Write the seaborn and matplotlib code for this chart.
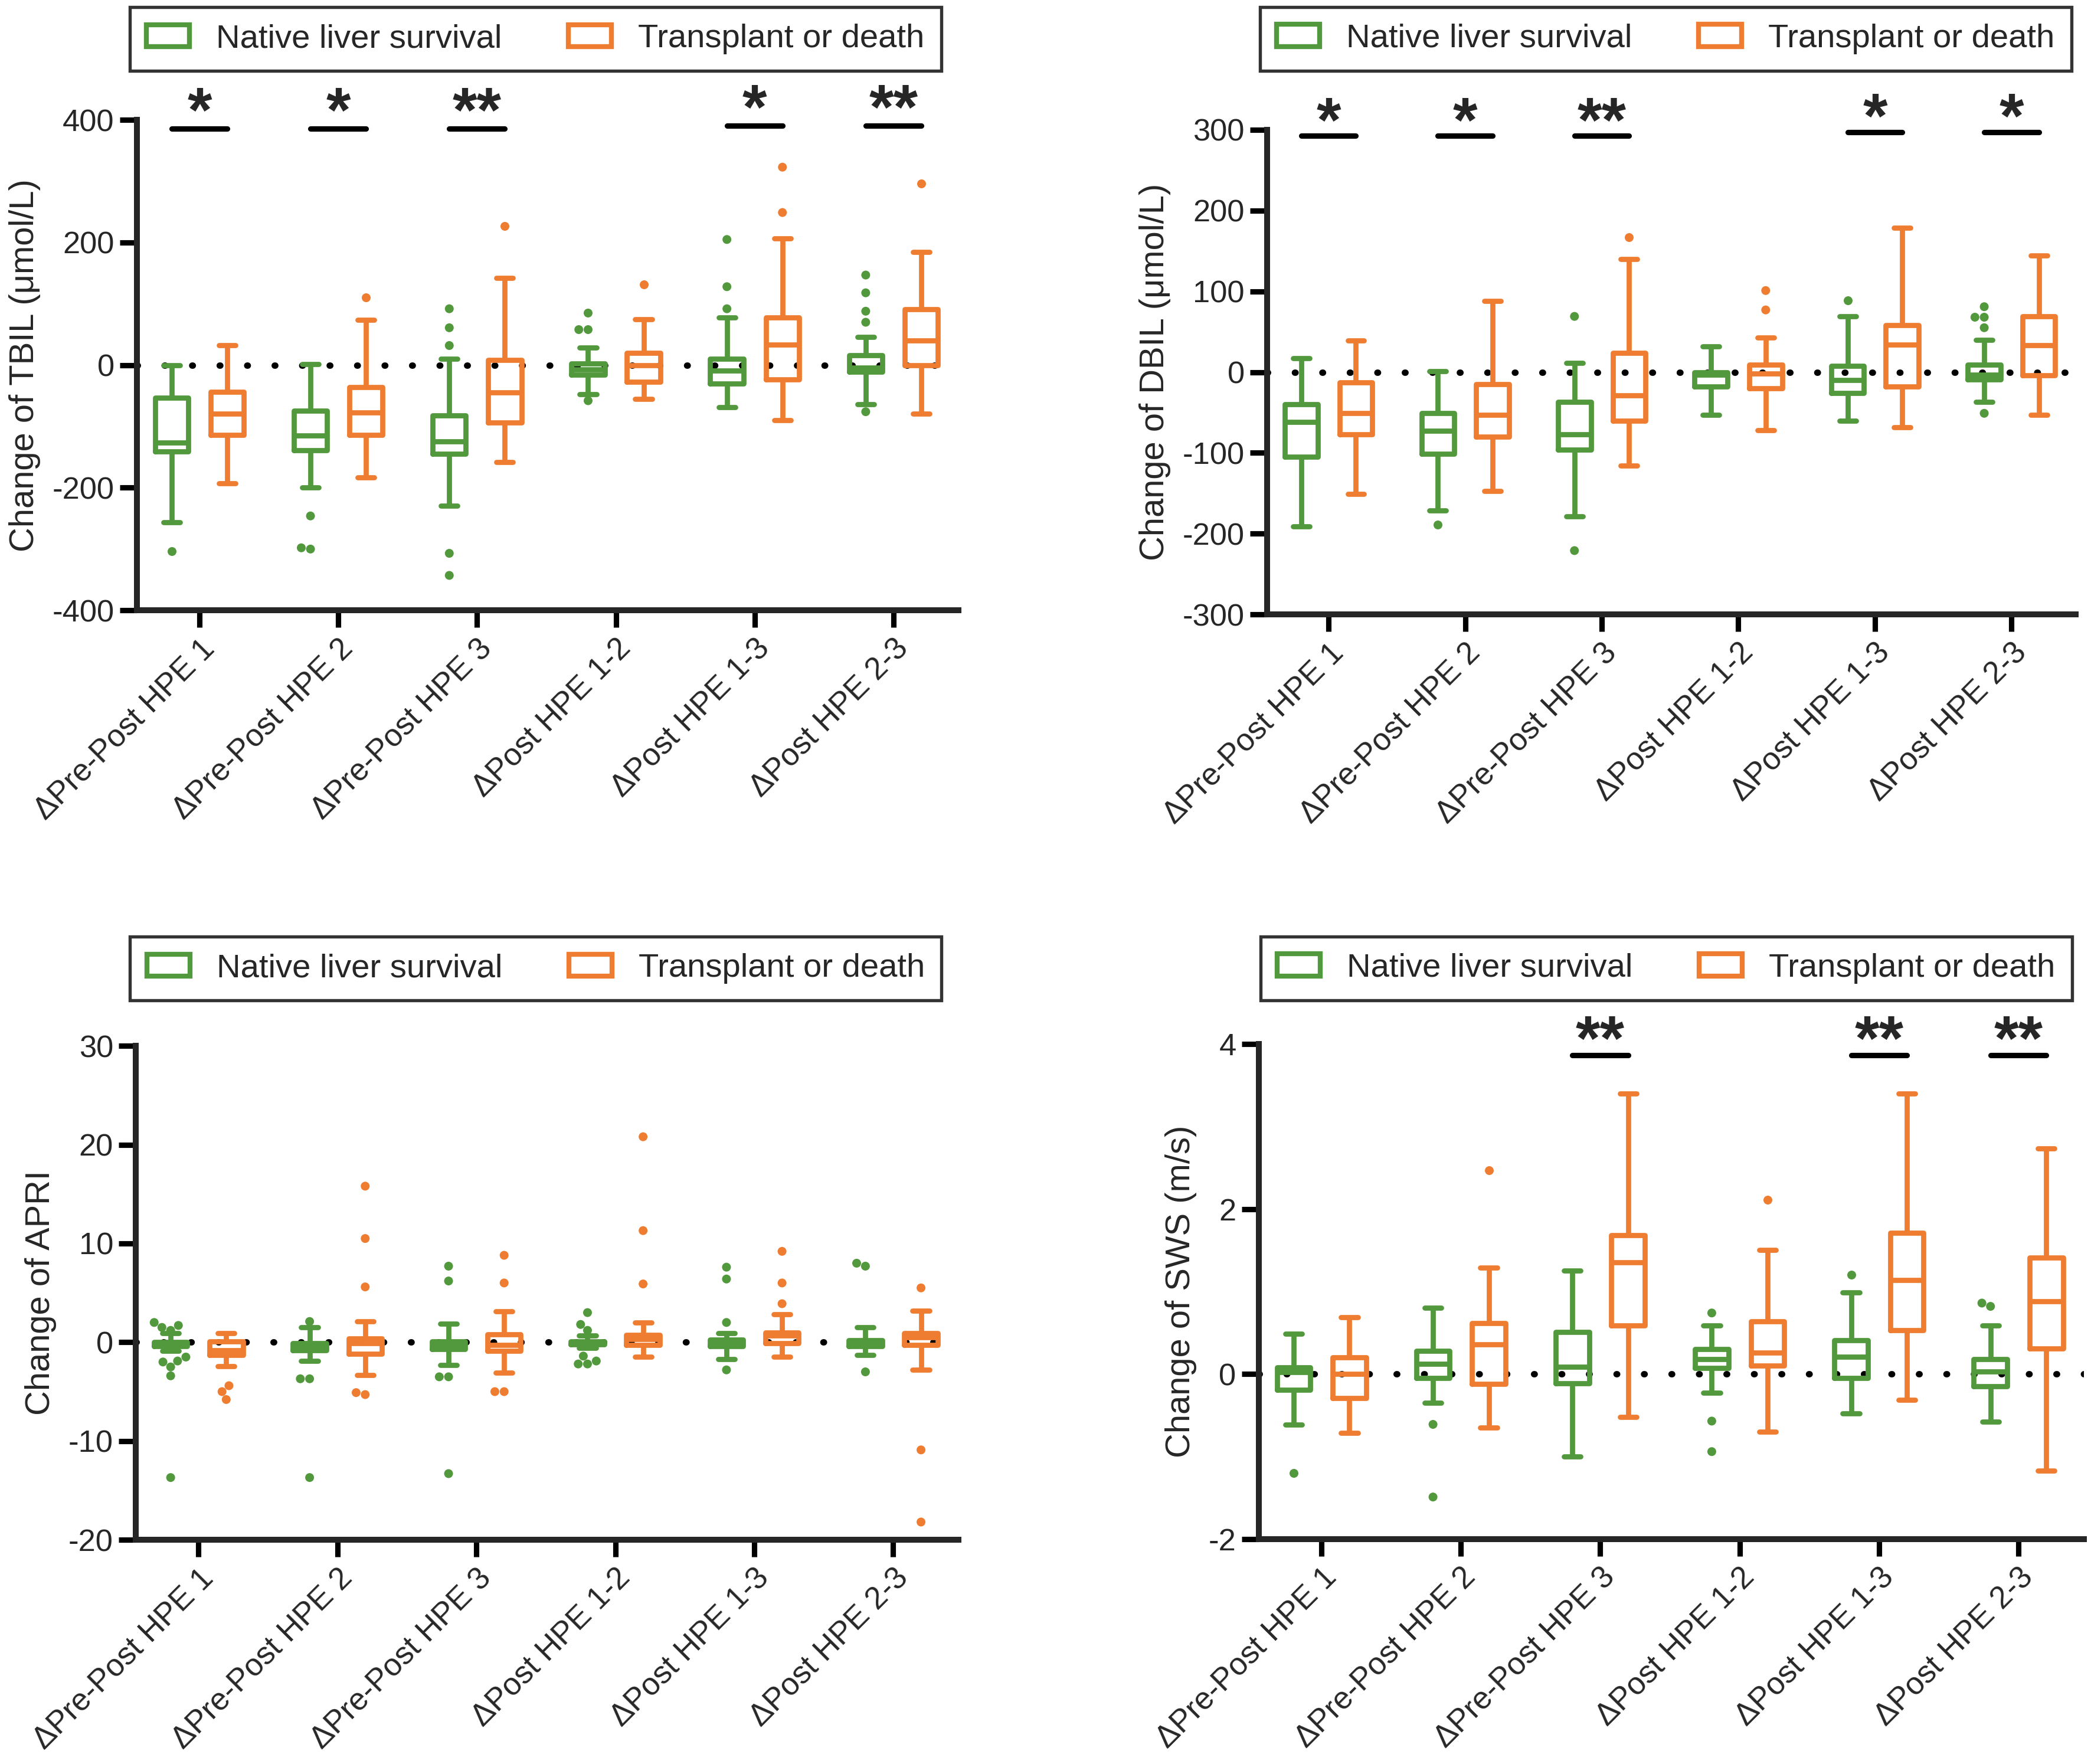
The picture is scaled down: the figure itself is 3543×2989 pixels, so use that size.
import numpy as np
import pandas as pd
import matplotlib
matplotlib.use('Agg')
import matplotlib.pyplot as plt
import matplotlib.transforms as mtransforms
import seaborn as sns
from matplotlib.patches import Patch

# categories / groups
cats = ['ΔPre-Post HPE 1', 'ΔPre-Post HPE 2', 'ΔPre-Post HPE 3',
        'ΔPost HPE 1-2', 'ΔPost HPE 1-3', 'ΔPost HPE 2-3']
groups = ['Native liver survival', 'Transplant or death']
colors = ['#52983C', '#EE7D32']

# box summaries: [whisker low, Q1, median, Q3, whisker high]
tbil_nls = [[-256, -141, -126, -53, 0], [-200, -139, -115, -74, 2], [-229, -145, -124, -82, 10],
            [-47, -16, -7, 3, 29], [-69, -30, -9, 10, 78], [-64, -11, -4, 16, 46]]
tbil_td = [[-193, -114, -79, -44, 32], [-183, -114, -77, -36, 74], [-158, -94, -45, 8, 142],
           [-55, -27, 0, 20, 75], [-90, -23, 33, 78, 207], [-79, 0, 40, 91, 185]]
tbil_nls_out = [[-304], [-246, -298, -300], [92, 61, 32, -307, -343],
                [85, 58, 58, -58], [205, 128, 92], [147, 118, 88, 70, -76]]
tbil_td_out = [[], [110], [227], [132], [323, 249], [296]]

dbil_nls = [[-191, -105, -62, -40, 17], [-171, -101, -73, -51, 1], [-179, -96, -77, -37, 11],
            [-53, -18, -3, 0, 32], [-60, -26, -10, 8, 69], [-37, -9, -3, 9, 40]]
dbil_td = [[-151, -77, -51, -13, 39], [-147, -80, -53, -15, 88], [-116, -60, -29, 24, 140],
           [-72, -20, -2, 9, 43], [-68, -18, 34, 58, 179], [-53, -4, 33, 69, 144]]
dbil_nls_out = [[], [-189], [69, -221], [], [89], [81, 68, 68, 55, -51]]
dbil_td_out = [[], [], [167], [101, 77], [], []]

apri_nls = [[-0.9, -0.4, -0.2, 0.0, 0.9], [-1.9, -0.8, -0.4, -0.1, 1.5], [-2.3, -0.7, -0.3, 0.1, 1.9],
            [-0.6, -0.2, 0.0, 0.1, 0.7], [-1.7, -0.4, -0.1, 0.25, 0.9], [-1.3, -0.4, -0.1, 0.2, 1.5]]
apri_td = [[-2.4, -1.3, -0.8, 0.1, 0.9], [-3.3, -1.2, -0.1, 0.4, 2.1], [-3.1, -0.9, -0.3, 0.8, 3.1],
           [-1.5, -0.25, 0.3, 0.75, 2.0], [-1.5, -0.1, 0.7, 1.0, 2.8], [-2.8, -0.3, 0.5, 0.9, 3.2]]
apri_nls_out = [[2.0, 1.7, 1.5, 1.2, -1.5, -1.9, -2.0, -2.5, -3.4, -13.7],
                [2.1, -3.7, -3.7, -13.7], [7.7, 6.2, -3.5, -3.5, -13.3],
                [3.0, 1.8, 1.2, -1.4, -1.9, -2.2, -2.2], [7.6, 6.4, 2.0, -2.8], [8.0, 7.7, -3.0]]
apri_td_out = [[-4.4, -5.0, -5.8], [15.8, 10.5, 5.6, -5.1, -5.3], [8.8, 6.0, -5.0, -5.0],
               [20.8, 11.3, 5.9], [9.2, 6.0, 3.9], [5.5, -10.9, -18.2]]

sws_nls = [[-0.61, -0.19, 0.02, 0.08, 0.49], [-0.35, -0.05, 0.12, 0.28, 0.80], [-1.0, -0.11, 0.09, 0.51, 1.25],
           [-0.23, 0.07, 0.18, 0.30, 0.59], [-0.48, -0.05, 0.21, 0.41, 0.99], [-0.58, -0.15, 0.03, 0.18, 0.59]]
sws_td = [[-0.71, -0.29, 0.0, 0.20, 0.69], [-0.65, -0.12, 0.36, 0.62, 1.29], [-0.52, 0.59, 1.35, 1.68, 3.40],
          [-0.70, 0.10, 0.26, 0.64, 1.50], [-0.31, 0.53, 1.14, 1.71, 3.40], [-1.17, 0.31, 0.88, 1.41, 2.73]]
sws_nls_out = [[-1.2], [-0.61, -1.49], [], [0.74, -0.57, -0.94], [1.20], [0.82, 0.86]]
sws_td_out = [[], [2.47], [], [2.11], [], []]

# significance: (category index, label)
tbil_sig = [(0, '*'), (1, '*'), (2, '**'), (4, '*'), (5, '**')]
dbil_sig = [(0, '*'), (1, '*'), (2, '**'), (4, '*'), (5, '*')]
sws_sig = [(2, '**'), (4, '**'), (5, '**')]

sns.set_style('ticks')
plt.rcParams['font.family'] = ['Liberation Sans', 'DejaVu Sans']
plt.rcParams['axes.unicode_minus'] = False


def long_df(a, b):
    rows = []
    for grp, vals in zip(groups, (a, b)):
        for cat, lst in zip(cats, vals):
            for v in lst:
                rows.append((cat, grp, v))
    return pd.DataFrame(rows, columns=['cat', 'grp', 'val'])


def draw_panel(ax, box_a, box_b, out_a, out_b, ylim, yticks, ylabel, sigs, bar_y, txt_y, leg_xy):
    ax.axhline(0, color='black', lw=2.6, ls=(0, (0.1, 4.2)), dash_capstyle='round', zorder=1)
    sns.boxplot(data=long_df(box_a, box_b), x='cat', y='val', hue='grp', order=cats,
                hue_order=groups, palette=colors, fill=False, whis=(0, 100), showfliers=False,
                width=0.8, gap=0.4, linewidth=2.1, legend=False, ax=ax)
    sns.swarmplot(data=long_df(out_a, out_b), x='cat', y='val', hue='grp', order=cats,
                  hue_order=groups, palette=colors, dodge=True, size=3.6, legend=False, ax=ax)
    ax.set_xlim(-0.45, 5.47)
    ax.set_ylim(*ylim)
    ax.set_yticks(yticks)
    ax.set_yticklabels([f'{t:g}' for t in yticks], fontsize=12.6)
    ax.set_xticks(range(len(cats)))
    ax.set_xticklabels(cats, rotation=45, ha='right', rotation_mode='anchor', fontsize=12.7)
    shift = mtransforms.ScaledTranslation(-21 / 300, 0, ax.figure.dpi_scale_trans)
    for lab in ax.get_xticklabels():
        lab.set_transform(lab.get_transform() + shift)
    ax.set_xlabel('')
    ax.set_ylabel(ylabel, fontsize=13.9, labelpad=4.8)
    sns.despine(ax=ax)
    for s in ('left', 'bottom'):
        ax.spines[s].set_linewidth(2.4)
    ax.tick_params(axis='both', width=2.2, length=7, color='black')
    ax.tick_params(axis='y', pad=2.2)
    ax.tick_params(axis='x', pad=2.5)
    for i, lab in sigs:
        by = bar_y[0] if i < 3 else bar_y[1]
        ty = txt_y[0] if i < 3 else txt_y[1]
        ax.plot([i - 0.2, i + 0.2], [by, by], color='black', lw=2.2, clip_on=False)
        ax.text(i, ty, lab, ha='center', va='center', fontsize=25.6, fontweight='bold', clip_on=False)
    handles = [Patch(facecolor='white', edgecolor=c, lw=2.0, label=g) for g, c in zip(groups, colors)]
    leg = ax.legend(handles=handles, loc='lower center', bbox_to_anchor=leg_xy, ncol=2,
                    fontsize=13.5, frameon=True, fancybox=False, edgecolor='black',
                    handlelength=1.3, handleheight=0.65, handletextpad=0.8, columnspacing=2.0,
                    borderpad=0.5, borderaxespad=0)
    leg.get_frame().set_linewidth(1.3)


fig = plt.figure(figsize=(3543 / 300, 2989 / 300), dpi=300)
ax1 = fig.add_axes([0.0655, 0.654, 0.393, 0.278])
ax2 = fig.add_axes([0.606, 0.6517, 0.3867, 0.2747])
ax3 = fig.add_axes([0.065, 0.1271, 0.3934, 0.28])
ax4 = fig.add_axes([0.602, 0.1275, 0.3946, 0.2807])

draw_panel(ax1, tbil_nls, tbil_td, tbil_nls_out, tbil_td_out, (-400, 400), [-400, -200, 0, 200, 400],
           'Change of TBIL (μmol/L)', tbil_sig, (386, 391), (408, 413), (0.485, 1.1))
draw_panel(ax2, dbil_nls, dbil_td, dbil_nls_out, dbil_td_out, (-300, 300), list(range(-300, 301, 100)),
           'Change of DBIL (μmol/L)', dbil_sig, (293, 297), (306, 311), (0.493, 1.122))
draw_panel(ax3, apri_nls, apri_td, apri_nls_out, apri_td_out, (-20, 30), [-20, -10, 0, 10, 20, 30],
           'Change of APRI', [], (0, 0), (0, 0), (0.486, 1.092))
draw_panel(ax4, sws_nls, sws_td, sws_nls_out, sws_td_out, (-2, 4), [-2, 0, 2, 4],
           'Change of SWS (m/s)', sws_sig, (3.86, 3.86), (4.01, 4.01), (0.494, 1.088))

fig.savefig('out.png', dpi=300)
